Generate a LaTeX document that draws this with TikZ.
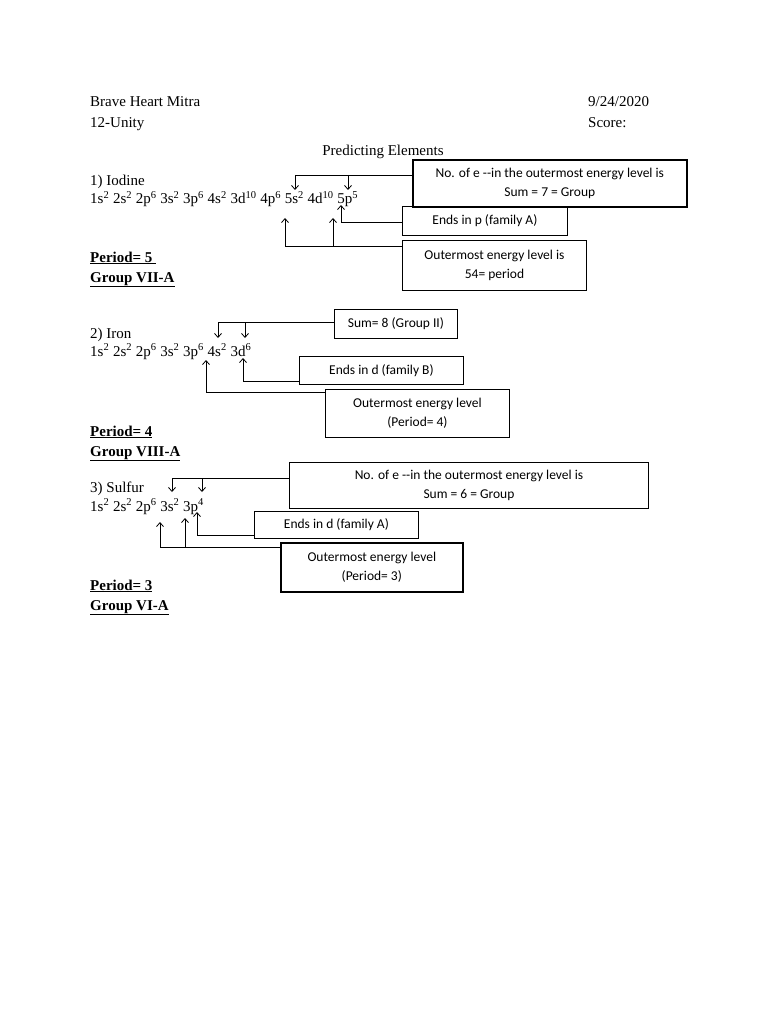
\documentclass[tikz,border=0pt]{standalone}
\usepackage{fontspec}
\setmainfont{Liberation Serif}
\newfontfamily\boxfont{Carlito}
\usetikzlibrary{arrows.meta}
\begin{document}
\begin{tikzpicture}[x=1pt,y=-1pt,
  txt/.style={anchor=base west,inner sep=0pt,font=\fontsize{15}{18}\selectfont},
  bx/.style={draw,line width=0.9pt,anchor=north west,inner sep=0pt,align=center,font=\boxfont\fontsize{13.5}{19}\selectfont},
  thk/.style={line width=1.6pt},
  ln/.style={line width=0.8pt},
  arr/.style={line width=0.8pt,-{Straight Barb[length=4pt,width=7pt]}}]
\useasboundingbox (0,0) rectangle (768,1024);
\fill[white] (0,0) rectangle (768,1024);
\node[txt] (n1) at (90,107) {Brave Heart Mitra};
\node[txt] (n2) at (90,128) {12-Unity};
\node[txt] (d1) at (588,107) {9/24/2020};
\node[txt] (d2) at (588,128) {Score:};
\node[txt,anchor=base] (t) at (383,156) {Predicting Elements};
% Iodine
\node[txt] (i1) at (90,186) {1) Iodine};
\node[txt] (i2) at (90,204) {1s\textsuperscript{2} 2s\textsuperscript{2} 2p\textsuperscript{6} 3s\textsuperscript{2} 3p\textsuperscript{6} 4s\textsuperscript{2} 3d\textsuperscript{10} 4p\textsuperscript{6} 5s\textsuperscript{2} 4d\textsuperscript{10} 5p\textsuperscript{5}};
\node[bx,thk,minimum width=274,minimum height=47] (ib1) at (412,159) {No. of e --in the outermost energy level is\\Sum = 7 = Group};
\node[bx,minimum width=165,minimum height=29] (ib2) at (402,206) {Ends in p (family A)};
\node[bx,minimum width=184,minimum height=50] (ib3) at (402,240) {Outermost energy level is\\54= period};
\coordinate (ia) at (295,175); \coordinate (ib) at (348,175);
\draw[ln] (ib1.west|-ia) -- (ia);
\draw[arr] (ia) -- ++(0,15); \draw[arr] (ib) -- ++(0,15);
\coordinate (ic) at (341,222);
\draw[arr] (ib2.west|-ic) -- (ic) -- ++(0,-17);
\coordinate (id) at (285,246); \coordinate (ie) at (333,246);
\draw[ln] (ib3.west|-id) -- (id);
\draw[arr] (id) -- ++(0,-28); \draw[arr] (ie) -- ++(0,-28);
\node[txt,font=\bfseries\fontsize{15}{18}\selectfont] (ip) at (90,262) {\underline{Period= 5 }};
\node[txt,font=\bfseries\fontsize{15}{18}\selectfont] (ig) at (90,282) {\underline{Group VII-A}};
% Iron
\node[txt] (f1) at (90,338) {2) Iron};
\node[txt] (f2) at (90,356) {1s\textsuperscript{2} 2s\textsuperscript{2} 2p\textsuperscript{6} 3s\textsuperscript{2} 3p\textsuperscript{6} 4s\textsuperscript{2} 3d\textsuperscript{6}};
\node[bx,minimum width=123,minimum height=29] (fb1) at (334,309) {Sum= 8 (Group II)};
\node[bx,minimum width=164,minimum height=28] (fb2) at (299,356) {Ends in d (family B)};
\node[bx,minimum width=184,minimum height=48] (fb3) at (325,389) {Outermost energy level\\(Period= 4)};
\coordinate (fa) at (218,322); \coordinate (fb) at (245,322);
\draw[ln] (fb1.west|-fa) -- (fa);
\draw[arr] (fa) -- ++(0,16); \draw[arr] (fb) -- ++(0,16);
\coordinate (fc) at (243,381);
\draw[arr] (fb2.west|-fc) -- (fc) -- ++(0,-23);
\coordinate (fd) at (206,392);
\draw[arr] (fb3.west|-fd) -- (fd) -- ++(0,-32);
\node[txt,font=\bfseries\fontsize{15}{18}\selectfont] (fp) at (90,436) {\underline{Period= 4}};
\node[txt,font=\bfseries\fontsize{15}{18}\selectfont] (fg) at (90,456) {\underline{Group VIII-A}};
% Sulfur
\node[txt] (s1) at (90,492) {3) Sulfur};
\node[txt] (s2) at (90,511) {1s\textsuperscript{2} 2s\textsuperscript{2} 2p\textsuperscript{6} 3s\textsuperscript{2} 3p\textsuperscript{4}};
\node[bx,minimum width=359,minimum height=46] (sb1) at (289,462) {No. of e --in the outermost energy level is\\Sum = 6 = Group};
\node[bx,minimum width=164,minimum height=27] (sb2) at (254,511) {Ends in d (family A)};
\node[bx,thk,minimum width=182,minimum height=49] (sb3) at (280,542) {Outermost energy level\\(Period= 3)};
\coordinate (sa) at (172,478); \coordinate (sbb) at (202,478);
\draw[ln] (sb1.west|-sa) -- (sa);
\draw[arr] (sa) -- ++(0,14); \draw[arr] (sbb) -- ++(0,14);
\coordinate (sc) at (197,535);
\draw[arr] (sb2.west|-sc) -- (sc) -- ++(0,-23);
\coordinate (sd) at (160,547); \coordinate (se) at (185,547);
\draw[ln] (sb3.west|-sd) -- (sd);
\draw[arr] (sd) -- ++(0,-25); \draw[arr] (se) -- ++(0,-29);
\node[txt,font=\bfseries\fontsize{15}{18}\selectfont] (sp) at (90,590) {\underline{Period= 3}};
\node[txt,font=\bfseries\fontsize{15}{18}\selectfont] (sg) at (90,610) {\underline{Group VI-A}};
\end{tikzpicture}
\end{document}
